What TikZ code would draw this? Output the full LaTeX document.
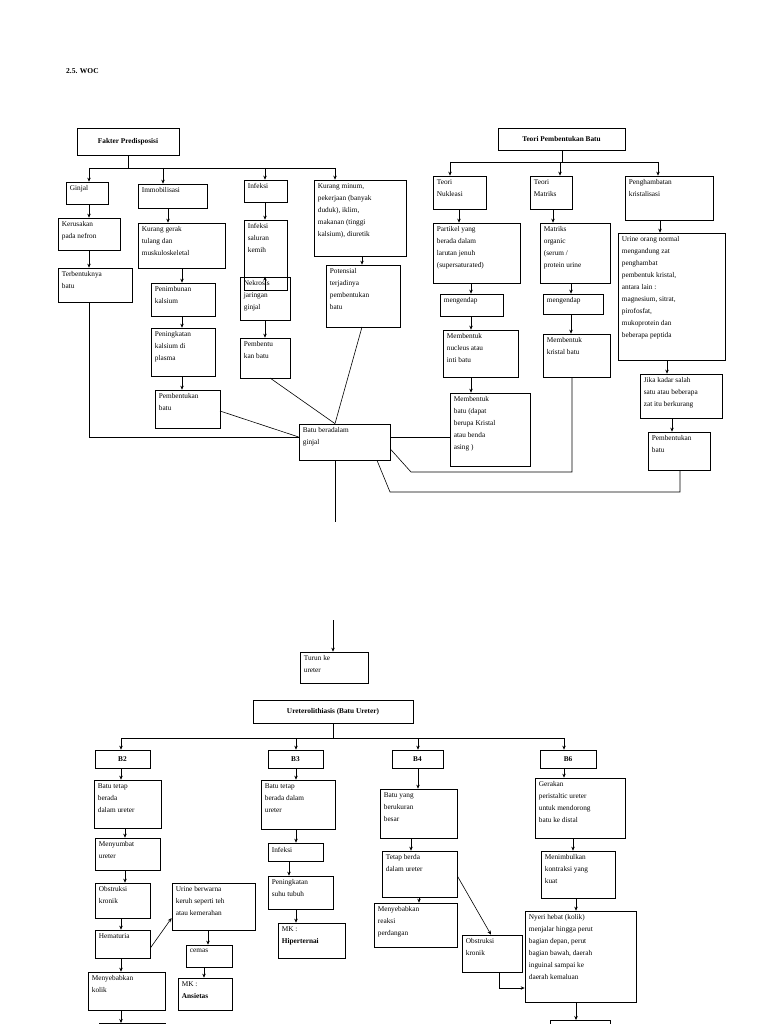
\documentclass[tikz,border=0pt]{standalone}
\usepackage{fontspec}
\setmainfont{Liberation Serif}
\usetikzlibrary{fit,arrows.meta}
\tikzset{
 frame/.style={draw=black, line width=0.7pt, inner sep=0pt},
 txt/.style={anchor=north west, align=left, inner sep=0pt, font=\fontsize{7.3}{12}\selectfont},
 arr/.style={-{Stealth[length=4pt,width=3.5pt]}, line width=0.6pt},
 ln/.style={line width=0.6pt}
}
\newcommand\bx[6]{%
 \node[frame, fit={(#2,#3)(#4,#5)}] (#1) {};
 \node[txt] at ([xshift=4pt,yshift=-4pt]#1.north west) {#6};}
\newcommand\bxc[6]{%
 \node[frame, fit={(#2,#3)(#4,#5)}] (#1) {};
 \node[txt, anchor=center, align=center, font=\fontsize{7.3}{12}\selectfont\bfseries] at (#1.center) {#6};}
\begin{document}
\begin{tikzpicture}[x=1pt,y=-1pt]
\useasboundingbox (0,0) rectangle (768,1024);
\node[txt, font=\fontsize{7.5}{10}\selectfont\bfseries] (title) at (66,68) {2.5. WOC};
% left top
\bxc{fp}{77}{128}{179}{155}{Fakter Predisposisi}
\bx{gin}{66}{182}{108}{204}{Ginjal}
\bx{imm}{138}{184}{207}{208}{Immobilisasi}
\bx{inf}{244}{180}{287}{202}{Infeksi}
\bx{kur}{314}{180}{406}{256}{Kurang minum,\\pekerjaan (banyak\\duduk), iklim,\\makanan (tinggi\\kalsium), diuretik}
\bx{ker}{58}{218}{120}{250}{Kerusakan\\pada nefron}
\bx{kgt}{138}{223}{225}{268}{Kurang gerak\\tulang dan\\muskuloskeletal}
\bx{isk}{244}{220}{287}{290}{Infeksi\\saluran\\kemih}
\bx{pot}{326}{265}{400}{327}{Potensial\\terjadinya\\pembentukan\\batu}
\bx{ter}{58}{268}{132}{302}{Terbentuknya\\batu}
\bx{pen}{151}{283}{215}{316}{Penimbunan\\kalsium}
\bx{nek}{240}{277}{290}{320}{Nekrosis\\jaringan\\ginjal}
\bx{pkp}{151}{328}{215}{376}{Peningkatan\\kalsium di\\plasma}
\bx{pbi}{240}{338}{290}{378}{Pembentu\\kan batu}
\bx{pbk}{155}{390}{220}{428}{Pembentukan\\batu}
\bx{bag}{299}{424}{390}{460}{Batu beradalam\\ginjal}
\draw[ln] (fp.south) -- (fp.south |- 0,168) coordinate (h1);
\draw[ln] (89,168) -- (335,168);
\draw[arr] (89,168) -- (gin.north -| 89,0);
\draw[arr] (163,168) -- (imm.north -| 163,0);
\draw[arr] (265,168) -- (inf.north -| 265,0);
\draw[arr] (335,168) -- (kur.north -| 335,0);
\draw[arr] (gin.south -| 89,0) -- (ker.north -| 89,0);
\draw[arr] (ker.south -| 89,0) -- (ter.north -| 89,0);
\draw[arr] (imm.south -| 168,0) -- (kgt.north -| 168,0);
\draw[arr] (kgt.south -| 182,0) -- (pen.north -| 182,0);
\draw[arr] (pen.south -| 182,0) -- (pkp.north -| 182,0);
\draw[arr] (pkp.south -| 182,0) -- (pbk.north -| 182,0);
\draw[arr] (inf.south -| 265,0) -- (isk.north -| 265,0);
\draw[arr] (isk.south -| 265,0) -- (nek.north -| 265,0);
\draw[arr] (nek.south -| 265,0) -- (pbi.north -| 265,0);
\draw[arr] (kur.south -| 362,0) -- (pot.north -| 362,0);
\draw[ln] (ter.south -| 89,0) -- (89,437) -- (bag.west |- 0,437);
\draw[ln] (220,411) -- (bag.west |- 0,437);
\draw[ln] (270,378) -- (bag.north -| 335,0);
\draw[ln] (362,327) -- (bag.north -| 335,0);
\draw[ln] (bag.south -| 335,0) -- (335,522);
% right top
\bxc{tpb}{498}{128}{625}{150}{Teori Pembentukan Batu}
\bx{tn}{433}{176}{486}{209}{Teori\\Nukleasi}
\bx{tm}{530}{176}{572}{209}{Teori\\Matriks}
\bx{pk}{625}{176}{713}{220}{Penghambatan\\kristalisasi}
\bx{par}{433}{223}{520}{283}{Partikel yang\\berada dalam\\larutan jenuh\\(supersaturated)}
\bx{mo}{540}{223}{610}{283}{Matriks\\organic\\(serum /\\protein urine}
\bx{uon}{618}{233}{725}{360}{Urine orang normal\\mengandung zat\\penghambat\\pembentuk kristal,\\antara lain :\\magnesium, sitrat,\\pirofosfat,\\mukoprotein dan\\beberapa peptida}
\bx{me1}{440}{294}{503}{316}{mengendap}
\bx{me2}{543}{294}{603}{314}{mengendap}
\bx{mn}{443}{330}{518}{377}{Membentuk\\nucleus atau\\inti batu}
\bx{mk}{543}{334}{610}{377}{Membentuk\\kristal batu}
\bx{mb}{450}{393}{530}{466}{Membentuk\\batu (dapat\\berupa Kristal\\atau benda\\asing )}
\bx{jk}{640}{374}{722}{418}{Jika kadar salah\\satu atau beberapa\\zat itu berkurang}
\bx{pb2}{648}{432}{710}{470}{Pembentukan\\batu}
\draw[ln] (tpb.south -| 562,0) -- (562,162);
\draw[ln] (450,162) -- (658,162);
\draw[arr] (450,162) -- (tn.north -| 450,0);
\draw[arr] (560,162) -- (tm.north -| 560,0);
\draw[arr] (658,162) -- (pk.north -| 658,0);
\draw[arr] (tn.south -| 459,0) -- (par.north -| 459,0);
\draw[arr] (tm.south -| 553,0) -- (mo.north -| 553,0);
\draw[arr] (pk.south -| 660,0) -- (uon.north -| 660,0);
\draw[arr] (par.south -| 471,0) -- (me1.north -| 471,0);
\draw[arr] (mo.south -| 571,0) -- (me2.north -| 571,0);
\draw[arr] (me1.south -| 471,0) -- (mn.north -| 471,0);
\draw[arr] (me2.south -| 571,0) -- (mk.north -| 571,0);
\draw[arr] (mn.south -| 471,0) -- (mb.north -| 471,0);
\draw[arr] (uon.south -| 667,0) -- (jk.north -| 667,0);
\draw[arr] (jk.south -| 672,0) -- (pb2.north -| 672,0);
\draw[ln] (bag.east |- 0,437) -- (mb.west |- 0,437);
\draw[ln] (bag.east |- 0,449) -- (411,472) -- (572,472) -- (mk.south -| 572,0);
\draw[ln] (bag.south -| 377,0) -- (390,492) -- (680,492) -- (pb2.south -| 680,0);
% bottom
\coordinate (top2) at (333,620);
\bx{tku}{300}{652}{368}{683}{Turun ke\\ureter}
\bxc{uro}{253}{700}{413}{723}{Ureterolithiasis (Batu Ureter)}
\draw[arr] (top2) -- (tku.north -| 333,0);
\draw[ln] (uro.south -| 333,0) -- (333,738);
\draw[ln] (121,738) -- (564,738);
\bxc{b2}{95}{750}{150}{768}{B2}
\bxc{b3}{268}{750}{323}{768}{B3}
\bxc{b4}{392}{750}{443}{768}{B4}
\bxc{b6}{540}{750}{596}{768}{B6}
\foreach \n/\x in {b2/121,b3/296,b4/418,b6/564} \draw[arr] (\x,738) -- (\n.north -| \x,0);
% B2
\bx{bt2}{94}{780}{161}{828}{Batu tetap\\berada\\dalam ureter}
\bx{mu}{95}{838}{160}{870}{Menyumbat\\ureter}
\bx{ok}{95}{883}{150}{918}{Obstruksi\\kronik}
\bx{hem}{95}{930}{150}{958}{Hematuria}
\bx{mko}{88}{972}{165}{1010}{Menyebabkan\\kolik}
\bx{ub}{172}{883}{255}{930}{Urine berwarna\\keruh seperti teh\\atau kemerahan}
\bx{cem}{186}{945}{232}{967}{cemas}
\bx{ans}{178}{978}{232}{1010}{MK :\\\textbf{Ansietas}}
\draw[ln] (99,1023) -- (99,1026) (99,1023) -- (165,1023) -- (165,1026);
\coordinate (nx2) at (121,1023);
\draw[arr] (b2.south -| 121,0) -- (bt2.north -| 121,0);
\draw[arr] (bt2.south -| 125,0) -- (mu.north -| 125,0);
\draw[arr] (mu.south -| 125,0) -- (ok.north -| 125,0);
\draw[arr] (ok.south -| 121,0) -- (hem.north -| 121,0);
\draw[arr] (hem.south -| 121,0) -- (mko.north -| 121,0);
\draw[arr] (mko.south -| 121,0) -- (nx2);
\draw[arr] (hem.east |- 0,948) -- (ub.west |- 0,918);
\draw[arr] (ub.south -| 208,0) -- (cem.north -| 208,0);
\draw[arr] (cem.south -| 204,0) -- (ans.north -| 204,0);
% B3
\bx{bt3}{261}{780}{335}{829}{Batu tetap\\berada dalam\\ureter}
\bx{in3}{268}{843}{323}{861}{Infeksi}
\bx{ps}{268}{876}{333}{909}{Peningkatan\\suhu tubuh}
\bx{hip}{278}{923}{345}{958}{MK :\\\textbf{Hiperternai}}
\draw[arr] (b3.south -| 296,0) -- (bt3.north -| 296,0);
\draw[arr] (bt3.south -| 296,0) -- (in3.north -| 296,0);
\draw[arr] (in3.south -| 289,0) -- (ps.north -| 289,0);
\draw[arr] (ps.south -| 296,0) -- (hip.north -| 296,0);
% B4
\bx{by}{380}{789}{457}{838}{Batu yang\\berukuran\\besar}
\bx{tb}{382}{851}{457}{897}{Tetap berda\\dalam ureter}
\bx{mr}{374}{903}{457}{947}{Menyebabkan\\reaksi\\perdangan}
\bx{ok4}{462}{935}{522}{972}{Obstruksi\\kronik}
\draw[arr] (b4.south -| 418,0) -- (by.north -| 418,0);
\draw[arr] (by.south -| 411,0) -- (tb.north -| 411,0);
\draw[arr] (tb.south -| 419,0) -- (mr.north -| 419,0);
\draw[arr] (tb.east |- 0,876) -- (ok4.north -| 491,0);
% B6
\bx{ger}{535}{778}{625}{838}{Gerakan\\peristaltic ureter\\untuk mendorong\\batu ke distal}
\bx{men}{541}{851}{615}{898}{Menimbulkan\\kontraksi yang\\kuat}
\bx{ny}{525}{911}{636}{1002}{Nyeri hebat (kolik)\\menjalar hingga perut\\bagian depan, perut\\bagian bawah, daerah\\inguinal sampai ke\\daerah kemaluan}
\draw[arr] (b6.south -| 564,0) -- (ger.north -| 564,0);
\draw[arr] (ger.south -| 573,0) -- (men.north -| 573,0);
\draw[arr] (men.south -| 576,0) -- (ny.north -| 576,0);
\draw[arr] (ok4.south -| 499,0) -- (499,988) -- (ny.west |- 0,988);
\draw[ln] (550,1026) -- (550,1020) -- (610,1020) -- (610,1026);
\coordinate (nx6) at (576,1020);
\draw[arr] (ny.south -| 576,0) -- (nx6);
\end{tikzpicture}
\end{document}
